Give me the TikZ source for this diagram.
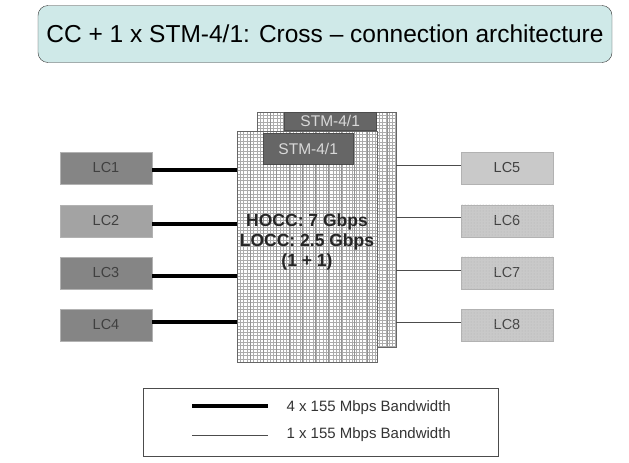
\documentclass[tikz,border=0pt]{standalone}
\usepackage{fontspec}
\setmainfont{Liberation Sans}
\usetikzlibrary{patterns}
\definecolor{titlefill}{HTML}{CFE9E8}
\definecolor{darklc}{HTML}{858585}
\definecolor{midlc}{HTML}{A3A3A3}
\definecolor{lightlc}{HTML}{C9C9C9}
\begin{document}
\begin{tikzpicture}[x=1pt,y=-1pt,
  lc/.style={draw=gray!60,minimum width=92pt,minimum height=32pt,inner sep=0pt,font=\fontsize{14.5}{16}\selectfont,text=black!75},
  thick link/.style={line width=4pt},
  thin link/.style={line width=0.6pt,draw=black!70},
  fine/.style={gray!65,line width=0.3pt},
  major/.style={gray!85,line width=0.6pt},
  stm/.style={fill=black!60,draw=black!70,text=white!85!black,font=\fontsize{15.5}{17}\selectfont,inner sep=0pt}]
\useasboundingbox (0,0) rectangle (629,463);
% title
\node[draw=black!80,fill=titlefill,rounded corners=10pt,minimum width=574pt,minimum height=57pt,font=\fontsize{24.5}{28}\selectfont] (title) at (325,34) {CC + 1 x STM-4/1: Cross -- connection architecture};
% back panel
\fill[white] (257,112) rectangle (396,347);
\foreach \x in {257,260.3,...,396} \draw[fine] (\x,112)--(\x,347);
\foreach \y in {112,115.3,...,347} \draw[fine] (257,\y)--(396,\y);
\foreach \x in {270,283,296,309,322,335,348,361,374,387} \draw[major] (\x,112)--(\x,347);
\draw[black!60] (257,112) rectangle (396,347);
\node[stm,minimum width=92pt,minimum height=18pt,anchor=north west] (stmb) at (284,112) {STM-4/1};
% front panel
\fill[white] (237,131) rectangle (377,362);
\foreach \x in {237,240.3,...,377} \draw[fine] (\x,131)--(\x,362);
\foreach \y in {131,134.3,...,362} \draw[fine] (237,\y)--(377,\y);
\foreach \x in {250,263,276,289,302,315,328,341,354,367} \draw[major] (\x,131)--(\x,362);
\draw[black!60] (237,131) rectangle (377,362);
\node[stm,minimum width=90pt,minimum height=31pt,anchor=north west] (stmf) at (263,133) {STM-4/1};
\node[font=\bfseries\fontsize{17.5}{20}\selectfont,align=center,text=black!85] (cc) at (307,242) {HOCC: 7 Gbps\\LOCC: 2.5 Gbps\\(1 + 1)};
\coordinate (fl1) at (237,170); \coordinate (fl2) at (237,224);
\coordinate (fl3) at (237,276); \coordinate (fl4) at (237,322);
\coordinate (br1) at (396,165); \coordinate (br2) at (396,217);
\coordinate (br3) at (396,270); \coordinate (br4) at (396,322);
% line cards
\node[lc,fill=darklc] (lc1) at (106,168) {LC1};
\node[lc,fill=midlc] (lc2) at (106,221) {LC2};
\node[lc,fill=darklc] (lc3) at (106,273) {LC3};
\node[lc,fill=darklc] (lc4) at (106,325) {LC4};
\node[lc,fill=lightlc] (lc5) at (507,168) {LC5};
\node[lc,fill=lightlc] (lc6) at (507,221) {LC6};
\node[lc,fill=lightlc] (lc7) at (507,273) {LC7};
\node[lc,fill=lightlc] (lc8) at (507,325) {LC8};
\foreach \n in {6,7,8} \fill[pattern=dots,pattern color=gray!60] (lc\n.north west) rectangle (lc\n.south east);
\draw[thick link] (lc1.east|-fl1) -- (fl1);
\draw[thick link] (lc2.east|-fl2) -- (fl2);
\draw[thick link] (lc3.east|-fl3) -- (fl3);
\draw[thick link] (lc4.east|-fl4) -- (fl4);
\draw[thin link] (br1) -- (lc5.west|-br1);
\draw[thin link] (br2) -- (lc6.west|-br2);
\draw[thin link] (br3) -- (lc7.west|-br3);
\draw[thin link] (br4) -- (lc8.west|-br4);
% legend
\node[draw=black!70,minimum width=355pt,minimum height=68pt,inner sep=0pt] (leg) at (321,422) {};
\coordinate (la) at (192,406); \coordinate (lb) at (268,406);
\coordinate (lc) at (192,435); \coordinate (ld) at (268,435);
\draw[line width=3.5pt] (la) -- (lb);
\draw[thin link] (lc) -- (ld);
\node[anchor=west,font=\fontsize{15}{17}\selectfont,text=black!80] (t1) at (283,408) {4 x 155 Mbps Bandwidth};
\node[anchor=west,font=\fontsize{15}{17}\selectfont,text=black!80] (t2) at (283,435) {1 x 155 Mbps Bandwidth};
\end{tikzpicture}
\end{document}
